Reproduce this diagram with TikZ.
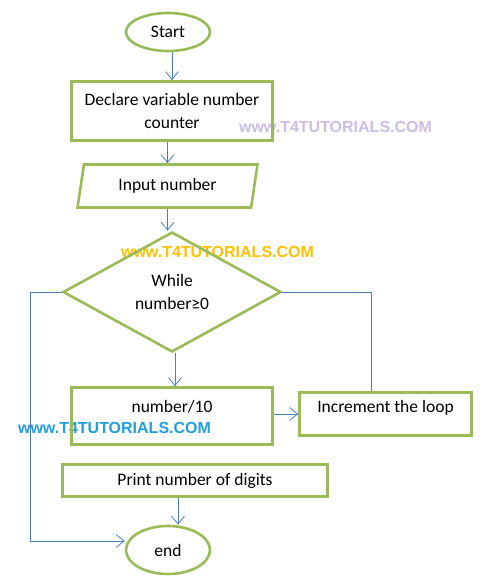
\documentclass[tikz,border=0pt]{standalone}
\usepackage{fontspec}
\setmainfont{Carlito}
\newfontfamily\markfont{Liberation Sans}
\usetikzlibrary{shapes.geometric,arrows.meta}
\definecolor{boxgreen}{RGB}{155,187,89}
\definecolor{lineblue}{RGB}{74,126,187}
\definecolor{marklilac}{RGB}{204,188,232}
\definecolor{markyellow}{RGB}{255,192,0}
\definecolor{markblue}{RGB}{32,158,222}
\begin{document}
\begin{tikzpicture}[x=1pt, y=-1pt,
    base/.style={draw=boxgreen, line width=2.6pt, inner sep=0pt,
        font=\fontsize{17.5}{23.5}\selectfont, align=center},
    term/.style={base, ellipse},
    proc/.style={base, rectangle},
    io/.style={base, trapezium, trapezium left angle=76, trapezium right angle=104,
        trapezium stretches=true},
    test/.style={base, diamond},
    arr/.style={draw=lineblue, line width=0.8pt, -{Straight Barb[length=8pt, width=13pt]}},
    link/.style={draw=lineblue, line width=0.8pt},
    watermark/.style={font=\markfont\bfseries\fontsize{16}{18}\selectfont, inner sep=0pt}
]
    \useasboundingbox (0,0) rectangle (484,578);

    % watermarks
    \node[watermark, text=marklilac] at (335.5,127) (w1) {www.T4TUTORIALS.COM};
    \node[watermark, text=markyellow] at (217.5,252) (w2) {www.T4TUTORIALS.COM};
    \node[watermark, text=markblue] at (114.5,428) (w3) {www.T4TUTORIALS.COM};

    \node[term, minimum width=84, minimum height=38] at (168,32) (start) {Start};
    \node[proc, minimum width=201, minimum height=59] at (172,111) (declare) {Declare variable number\\counter};
    \node[io, minimum width=180, minimum height=43] at (167.5,186) (input) {Input number};
    \node[test, minimum width=218, minimum height=120] at (172,292) (loop) {While\\number≥0};
    \node[proc, minimum width=201, minimum height=57, text depth=19pt] at (172,416) (divide) {number/10};
    \node[proc, minimum width=172, minimum height=43, text depth=15pt] at (385.5,414) (incr) {Increment the loop};
    \node[proc, minimum width=265, minimum height=32] at (195,480.5) (print) {Print number of digits};
    \node[term, minimum width=84, minimum height=48] at (168,550) (stop) {end};

    \coordinate (bend) at (30,0);

    \draw[arr] (start.south -| declare.north) -- (declare.north);
    \draw[arr] (declare.south -| input.north) -- (input.north);
    \draw[arr] (input.south) -- (input.south |- loop.north);
    \draw[arr] ([xshift=3pt]loop.south) -- ([xshift=3pt]loop.south |- divide.north);
    \draw[arr] (divide.east |- incr.west) -- (incr.west);
    \draw[link] ([xshift=-14pt]incr.north) |- (loop.east);
    \draw[arr] (loop.west) -- (loop.west -| bend) |- ([yshift=9pt]stop.west);
    \draw[arr] ([xshift=10pt]stop.north |- print.south) -- ([xshift=10pt]stop.north);
\end{tikzpicture}
\end{document}
